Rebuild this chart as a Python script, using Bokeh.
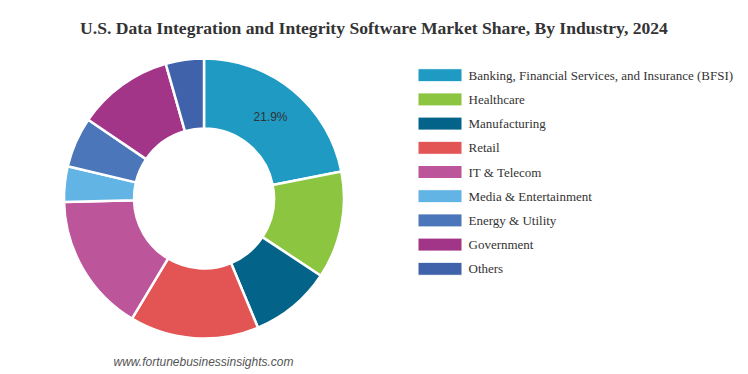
import numpy as np
from bokeh.plotting import figure
from bokeh.models import Range1d, ColumnDataSource
from bokeh.core.properties import value
from bokeh.embed import file_html
from bokeh.resources import INLINE

title = "U.S. Data Integration and Integrity Software Market Share, By Industry, 2024"
industries = [
    "Banking, Financial Services, and Insurance (BFSI)",
    "Healthcare",
    "Manufacturing",
    "Retail",
    "IT & Telecom",
    "Media & Entertainment",
    "Energy & Utility",
    "Government",
    "Others",
]
shares = [21.9, 12.4, 9.4, 14.9, 16.0, 4.1, 5.8, 11.1, 4.4]
colors = ["#1e9ac3", "#8cc540", "#046389", "#e35555", "#bd559b",
          "#62b4e4", "#4b76ba", "#a33589", "#3f62ab"]
label_text = "21.9%"
watermark = "www.fortunebusinessinsights.com"

W, H = 748, 374
p = figure(width=W, height=H, output_backend="svg", toolbar_location=None,
           x_range=Range1d(0, W), y_range=Range1d(0, H), min_border=0)
p.axis.visible = False
p.grid.visible = False
p.outline_line_color = None
p.background_fill_color = "white"

def px(x):
    return x

def py(y):
    return H - y

vals = np.array(shares, dtype=float)
frac = vals / vals.sum()
cum = np.concatenate([[0.0], np.cumsum(frac)])
start = np.pi / 2 - cum[:-1] * 2 * np.pi
end = np.pi / 2 - cum[1:] * 2 * np.pi

cx, cy = px(203.5), py(198)
src = ColumnDataSource(dict(start=start, end=end, color=colors))
p.annular_wedge(x=cx, y=cy, inner_radius=70, outer_radius=140,
                inner_radius_units="screen", outer_radius_units="screen",
                start_angle="start", end_angle="end", direction="clock",
                fill_color="color", line_color="white", line_width=2.5, source=src)

# label on first slice
p.text(x=[px(270)], y=[py(116.5)], text=[label_text], text_align="center",
       text_baseline="middle", text_font=value("Liberation Sans"),
       text_font_size="12px", text_color="#333333")

# title
p.text(x=[px(373.5)], y=[py(27)], text=[title], text_align="center",
       text_baseline="middle", text_font=value("Liberation Serif"),
       text_font_size="17.6px", text_font_style="bold", text_color="#333333")

# legend
n = len(industries)
ly = [py(74.7 + 24.2 * i) for i in range(n)]
p.rect(x=[px(439.5)] * n, y=ly, width=44, height=13, width_units="screen",
       height_units="screen", fill_color=colors, line_color="white", line_width=1)
p.text(x=[px(468)] * n, y=ly, text=industries, text_align="left",
       text_baseline="middle", text_font=value("Liberation Serif"),
       text_font_size="13px", text_color="#333333")

# watermark
p.text(x=[px(203)], y=[py(361)], text=[watermark], text_align="center",
       text_baseline="middle", text_font=value("Liberation Sans"),
       text_font_size="12px", text_font_style="italic", text_color="#555555")

open("out.html", "w").write(file_html(p, INLINE))
